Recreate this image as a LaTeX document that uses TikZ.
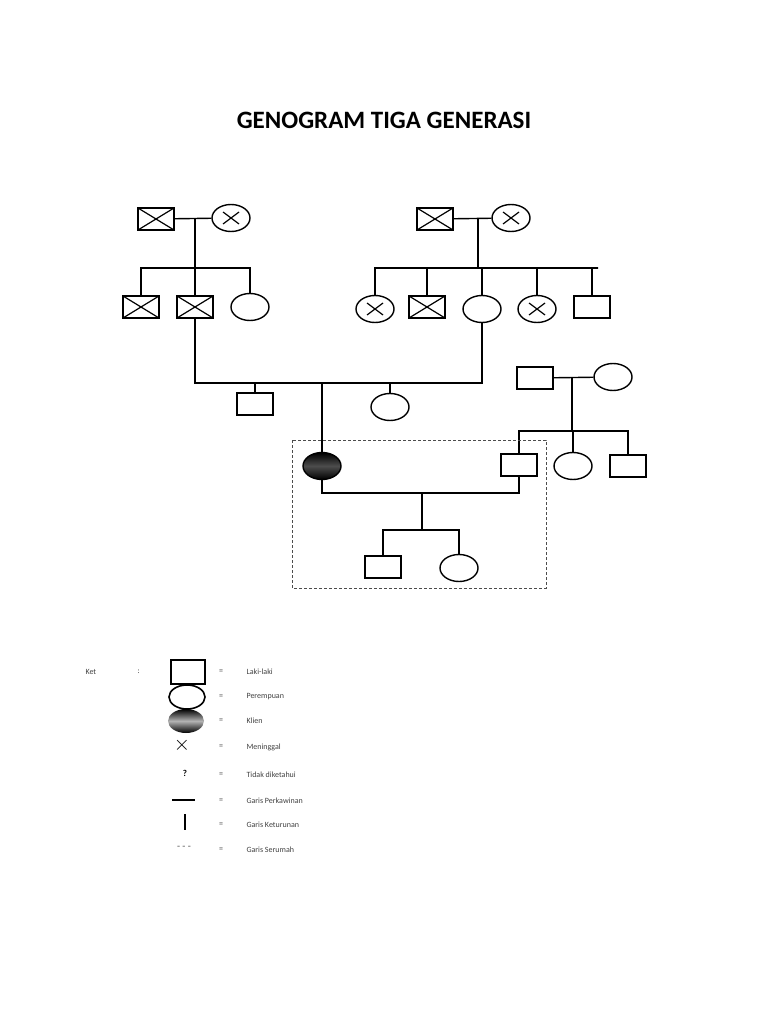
\documentclass[tikz,border=0pt]{standalone}
\usepackage{fontspec}
\setmainfont{Carlito}
\usetikzlibrary{shapes.geometric}
\begin{document}
\begin{tikzpicture}[x=1pt,y=-1pt,
  m/.style={draw,line width=1.4pt,minimum width=36pt,minimum height=22pt,inner sep=0pt},
  f/.style={draw,line width=1.4pt,ellipse,minimum width=38pt,minimum height=27pt,inner sep=0pt},
  dm/.style={m,path picture={\draw[line width=1.2pt](path picture bounding box.north west)--(path picture bounding box.south east)(path picture bounding box.north east)--(path picture bounding box.south west);}},
  df/.style={f,path picture={\draw[line width=1.2pt]([shift={(-8pt,-6pt)}]path picture bounding box.center)--([shift={(8pt,6pt)}]path picture bounding box.center)([shift={(-8pt,6pt)}]path picture bounding box.center)--([shift={(8pt,-6pt)}]path picture bounding box.center);}},
  kl/.style={f,top color=black,bottom color=black,middle color=gray!60!black},
  ln/.style={line width=1.4pt},
  lg/.style={anchor=west,font=\fontsize{8}{9}\selectfont,text=black!75},
  eq/.style={font=\fontsize{8}{9}\selectfont,text=black!75}]
\useasboundingbox (0,0) rectangle (768,1024);
\node (title) at (384,120) {\fontsize{25}{28}\selectfont\bfseries GENOGRAM TIGA GENERASI};
% gen1 left
\node[dm] (g1) at (156,219) {}; \node[df] (g2) at (231,218) {};
\coordinate (c1) at (195,219);
\node[dm] (a1) at (141,307) {}; \node[dm] (a2) at (195,307) {}; \node[f] (a3) at (250,307) {};
\draw[ln] (g1)--(g2); \draw[ln] (c1)--(195,268);
\draw[ln] (a1.north)--(141,268)--(250,268)--(a3.north);
\draw[ln] (a2.north)--(195,268);
% gen1 right
\node[dm] (g3) at (435,219) {}; \node[df] (g4) at (511,218) {};
\coordinate (c2) at (478,219);
\node[df] (b1) at (375,309) {}; \node[dm] (b2) at (427,307) {}; \node[f] (b3) at (482,309) {}; \node[df] (b4) at (537,309) {}; \node[m] (b5) at (592,307) {};
\draw[ln] (g3)--(g4); \draw[ln] (c2)--(478,268);
\draw[ln] (b1.north)--(375,268)--(598,268)--(592,268)--(b5.north);
\foreach \n/\x in {b2/427,b3/482,b4/537}{\draw[ln] (\n.north)--(\x,268);}
% gen2 marriage
\draw[ln] (a2.south)--(195,383)--(482,383)--(b3.south);
\node[m] (s1) at (255,404) {}; \node[f] (s2) at (390,407) {};
\node[kl] (k) at (322,466) {};
\draw[ln] (s1.north)--(255,383); \draw[ln] (s2.north)--(390,383); \draw[ln] (k.north)--(322,383);
% right family
\node[m] (r1) at (535,378) {}; \node[f] (r2) at (613,377) {};
\draw[ln] (r1)--(r2);
\node[m] (h) at (519,465) {}; \node[f] (r3) at (573,466) {}; \node[m] (r4) at (628,466) {};
\draw[ln] (572,378)--(572,431);
\draw[ln] (h.north)--(519,431)--(628,431)--(r4.north);
\draw[ln] (r3.north)--(573,431);
% client family
\draw[ln] (k.south)--(322,493)--(519,493)--(h.south);
\node[m] (c3) at (383,567) {}; \node[f] (c4) at (459,568) {};
\draw[ln] (422,493)--(422,530);
\draw[ln] (c3.north)--(383,530)--(459,530)--(c4.north);
\draw[dashed,line width=0.8pt,black!70,dash pattern=on 3pt off 2pt] (292,440) rectangle (546,588);
% legend
\node[lg] (ket) at (82,672) {Ket}; \node[lg] (col) at (134,672) {:};
\node[draw,line width=1.6pt,minimum width=34pt,minimum height=24pt] (l1) at (188,672) {};
\node[draw,line width=1.6pt,ellipse,minimum width=36pt,minimum height=24pt,inner sep=0pt] (l2) at (187,697) {};
\node[ellipse,minimum width=36pt,minimum height=24pt,inner sep=0pt,top color=black,bottom color=black,middle color=gray!60] (l3) at (186,721) {};
\node (l4) at (182,745) {\fontsize{20}{20}\selectfont\bfseries$\times$};
\node[font=\fontsize{9}{10}\selectfont\bfseries] (l5) at (185,773) {?};
\draw[line width=2pt] (172,800)--(195,800);
\draw[line width=2pt] (185,814)--(185,830);
\node[text=black!70] (l8) at (184,848) {- - -};
\foreach \y/\t in {672/Laki-laki,697/Perempuan,721/Klien,747/Meninggal,775/Tidak diketahui,801/Garis Perkawinan,825/Garis Keturunan,850/Garis Serumah}{
  \node[eq] at (221,\y) {=}; \node[lg] at (243,\y) {\t};}
\end{tikzpicture}
\end{document}
